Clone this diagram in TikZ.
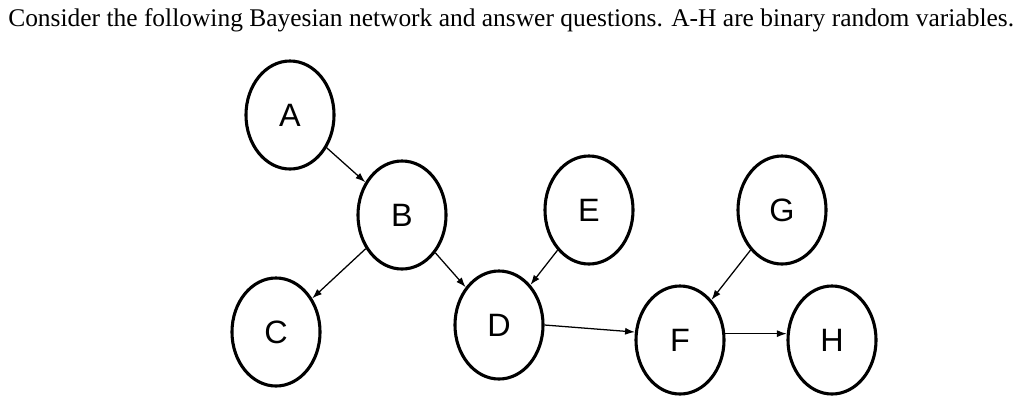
\documentclass[tikz,border=0pt]{standalone}
\usepackage{fontspec}
\setmainfont{Liberation Serif}
\newfontfamily\labelfont{Liberation Sans}
\usetikzlibrary{shapes.geometric,arrows.meta}
\begin{document}
\begin{tikzpicture}[x=0.025cm,y=-0.025cm,
    var/.style={ellipse, draw, line width=2.2pt, minimum width=2.2cm, minimum height=2.7cm, inner sep=0pt, font=\labelfont\fontsize{23}{26}\selectfont},
    edge/.style={-{Latex[length=7pt,width=5pt]}, line width=0.9pt}]
    \useasboundingbox (0,0) rectangle (1024,409);
    \node[anchor=west, font=\fontsize{18.1}{21}\selectfont, inner sep=0pt] (title) at (8,20)
        {Consider the following Bayesian network and answer questions. A-H are binary random variables.};
    \node[var] (A) at (290,115) {A};
    \node[var] (B) at (402,215) {B};
    \node[var] (C) at (276,332) {C};
    \node[var] (D) at (499,325) {D};
    \node[var] (E) at (589,210) {E};
    \node[var] (F) at (680,340) {F};
    \node[var] (G) at (782,210) {G};
    \node[var] (H) at (832,340) {H};
    \draw[edge] (A) -- (B);
    \draw[edge] (B) -- (C);
    \draw[edge] (B) -- (D);
    \draw[edge] (E) -- (D);
    \draw[edge] (D.east) -- (F.170);
    \draw[edge] (G) -- (F);
    \draw[edge] (F.8) -- (H.172);
\end{tikzpicture}
\end{document}
